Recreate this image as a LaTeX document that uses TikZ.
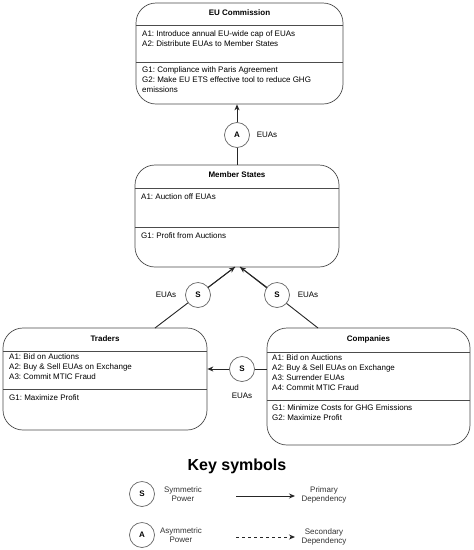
\documentclass[tikz,border=0pt]{standalone}
\usepackage{fontspec}
\setmainfont{Liberation Sans}
\usetikzlibrary{arrows.meta}
\frenchspacing
\begin{document}
\begin{tikzpicture}[x=1pt,y=-1pt,
 box/.style={draw=black!70, line width=0.7pt, rounded corners=20pt, inner sep=0pt},
 sepline/.style={draw=black!70, line width=0.6pt},
 ttl/.style={font=\fontsize{8}{10}\selectfont\bfseries, inner sep=0pt},
 txt/.style={font=\fontsize{8}{10}\selectfont\frenchspacing, align=left, anchor=north west, inner sep=0pt},
 pw/.style={circle, draw=black!60, fill=white, line width=0.7pt, minimum size=25pt, inner sep=0pt, font=\fontsize{8}{9}\selectfont\bfseries},
 lbl/.style={font=\fontsize{8}{10}\selectfont, inner sep=0pt},
 keylbl/.style={font=\fontsize{8}{9}\selectfont, text=black!80, align=center, inner sep=0pt},
 dep/.style={draw=black!85, line width=0.9pt},
 tip/.style={-{Stealth[length=6pt,width=5pt]}}
]
\fill[white] (0,0) rectangle (474,550);
\useasboundingbox (0,0) rectangle (474,550);

% EU Commission
\node[box, minimum width=207pt, minimum height=101pt] (eu) at (239.5,53.5) {};
\node[ttl] (eut) at (239.5,13) {EU Commission};
\draw[sepline] (136,25) -- (343,25);
\draw[sepline] (136,62) -- (343,62);
\node[txt] (eua) at (142,30) {A1: Introduce annual EU-wide cap of EUAs\\A2: Distribute EUAs to Member States};
\node[txt] (eug) at (142,66) {G1: Compliance with Paris Agreement\\G2: Make EU ETS effective tool to reduce GHG\\emissions};

% Member States
\node[box, minimum width=204pt, minimum height=102pt] (ms) at (237,216) {};
\node[ttl] (mst) at (237,175) {Member States};
\draw[sepline] (135,188) -- (339,188);
\draw[sepline] (135,227) -- (339,227);
\node[txt] (msa) at (141,193) {A1: Auction off EUAs};
\node[txt] (msg) at (141,232) {G1: Profit from Auctions};

% Traders
\node[box, minimum width=204pt, minimum height=102pt] (tr) at (105,379) {};
\node[ttl] (trt) at (105,339) {Traders};
\draw[sepline] (3,351) -- (207,351);
\draw[sepline] (3,389) -- (207,389);
\node[txt] (tra) at (9,353.5) {A1: Bid on Auctions\\A2: Buy \& Sell EUAs on Exchange\\A3: Commit MTIC Fraud};
\node[txt] (trg) at (9,394) {G1: Maximize Profit};

% Companies
\node[box, minimum width=203pt, minimum height=117pt] (co) at (368.5,386.5) {};
\node[ttl] (cot) at (368.5,339) {Companies};
\draw[sepline] (267,352) -- (470,352);
\draw[sepline] (267,400) -- (470,400);
\node[txt] (coa) at (272,354) {A1: Bid on Auctions\\A2: Buy \& Sell EUAs on Exchange\\A3: Surrender EUAs\\A4: Commit MTIC Fraud};
\node[txt] (cog) at (272,404) {G1: Minimize Costs for GHG Emissions\\G2: Maximize Profit};

% power circles
\coordinate (trtop) at (155,328);
\coordinate (cotop) at (318,328);
\coordinate (msl) at (235,267);
\coordinate (msr) at (240,267);
\draw[dep] (trtop) -- (msl);
\draw[dep] (cotop) -- (msr);
\node[pw] (sa) at (237,135) {A};
\node[lbl] (saL) at (267,135) {EUAs};
\node[pw] (sl) at (198,295) {S};
\node[lbl] (slL) at (166,295) {EUAs};
\node[pw] (sr) at (277,295) {S};
\node[lbl] (srL) at (308,295) {EUAs};
\node[pw] (sm) at (242,369) {S};
\node[lbl] (smL) at (242,396) {EUAs};

\draw[dep,tip] (sl) -- (msl);
\draw[dep,tip] (sr) -- (msr);
\draw[dep] (co.west |- sm) -- (sm);
\draw[dep,tip] (sm) -- (tr.east |- sm);
\draw[dep] (ms.north -| sa) -- (sa);
\draw[dep,tip] (sa) -- (sa |- eu.south);

% Key
\node[font=\fontsize{16}{18}\selectfont\bfseries, inner sep=0pt] (key) at (237,466) {Key symbols};
\node[pw] (ks) at (142,494) {S};
\node[keylbl] (kst) at (183,494) {Symmetric\\Power};
\coordinate (p1) at (236,496);
\coordinate (p2) at (295,496);
\draw[dep,tip] (p1) -- (p2);
\node[keylbl] (kpt) at (324,495) {Primary\\Dependency};
\node[pw] (ka) at (142,535) {A};
\node[keylbl] (kat) at (181,535) {Asymmetric\\Power};
\coordinate (p3) at (236,537);
\coordinate (p4) at (295,537);
\draw[dep,tip,dash pattern=on 3pt off 3pt] (p3) -- (p4);
\node[keylbl] (kdt) at (324,537) {Secondary\\Dependency};
\end{tikzpicture}
\end{document}
